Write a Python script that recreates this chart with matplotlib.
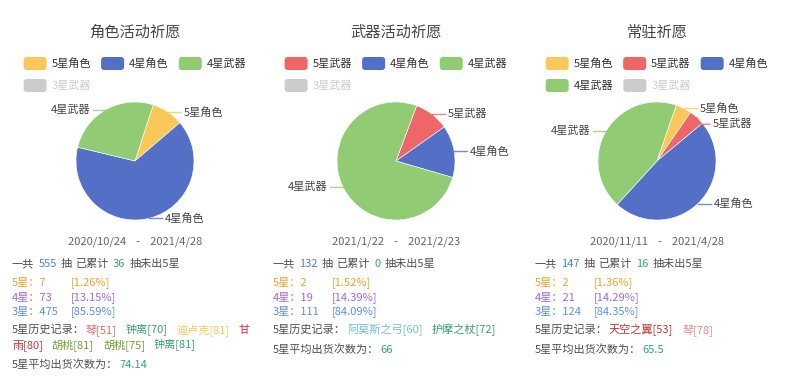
import matplotlib
matplotlib.use("Agg")
import matplotlib.pyplot as plt
import numpy as np
from matplotlib.patches import FancyBboxPatch

plt.rcParams['font.family'] = ['Noto Sans CJK SC', 'DejaVu Sans']

W, H = 801, 383

## Chart data
titles = ['角色活动祈愿', '武器活动祈愿', '常驻祈愿']
legend_names = [
    ['5星角色', '4星角色', '4星武器', '3星武器'],
    ['5星武器', '4星角色', '4星武器', '3星武器'],
    ['5星角色', '5星武器', '4星角色', '4星武器', '3星武器'],
]
hidden_names = ['3星武器']          ## legend item switched off
pie_values = [
    [7, 52, 21],
    [2, 3, 16],
    [1, 1, 11, 10],
]
date_from = ['2020/10/24', '2021/1/22', '2020/11/11']
date_to = ['2021/4/28', '2021/2/23', '2021/4/28']
total_pulls = [555, 132, 147]
since_last = [36, 0, 16]
star_labels = ['5星', '4星', '3星']
star_counts = [[7, 73, 475], [2, 19, 111], [2, 21, 124]]
star_pcts = [['1.26%', '13.15%', '85.59%'],
             ['1.52%', '14.39%', '84.09%'],
             ['1.36%', '14.29%', '84.35%']]
history_names = [['琴', '钟离', '迪卢克', '甘雨', '胡桃', '胡桃', '钟离'],
                 ['阿莫斯之弓', '护摩之杖'],
                 ['天空之翼', '琴']]
history_pulls = [[51, 70, 81, 80, 81, 75, 81], [60, 72], [53, 78]]
history_colors = [['#ee6666', '#3ba272', '#fac858', '#d0353f', '#73a032', '#73a032', '#3ba272'],
                  ['#73c0de', '#3ba272'],
                  ['#c23531', '#f08a8a']]
avg_pulls = ['74.14', '66', '65.5']

## Styles
slice_colors = {'5星角色': '#fac858', '4星角色': '#5470c6', '4星武器': '#91cc75',
                '5星武器': '#ee6666', '3星武器': '#cccccc'}
star_colors = ['#f5a02a', '#a066ee', '#5b8ff0']
dark = '#505050'
centers_x = [135, 396, 657]
center_y = 161
R = 59
start_angles = [72, 69.5, 71]
text_left = [12, 273, 535]
wrap_right = [256, 517, 779]

fig = plt.figure(figsize=(W / 100, H / 100), dpi=100)
renderer = fig.canvas.get_renderer()

## overlay axes in pixel coordinates for all the text
ov = fig.add_axes([0, 0, 1, 1])
ov.set_xlim(0, W)
ov.set_ylim(H, 0)
ov.axis('off')


def put(x, y, s, color, size=8, ha='left'):
    t = ov.text(x, y, s, color=color, fontsize=size, ha=ha, va='center')
    return t, t.get_window_extent(renderer).width


def text_width(s, size=8):
    t = ov.text(0, 0, s, fontsize=size)
    w = t.get_window_extent(renderer).width
    t.remove()
    return w


def flow(x, x0, y, x_max, segments, gap, line_h):
    for s, c in segments:
        rest = s
        while rest:
            n = len(rest)
            while n > 0 and x + text_width(rest[:n]) > x_max:
                n -= 1
            if n == 0:
                y += line_h
                x = x0
                continue
            _, w = put(x, y, rest[:n], c)
            x += w
            rest = rest[n:]
            if rest:
                y += line_h
                x = x0
        x += gap
    return y


for i in range(3):
    cx = centers_x[i]
    names = [n for n in legend_names[i] if n not in hidden_names]

    ## title
    ov.text(cx, 32, titles[i], fontsize=11, color='#464646', ha='center', va='center')

    ## legend, 3 items per row
    items = legend_names[i]
    widths = [text_width(n) for n in items]
    row1 = items[:3]
    row_w = sum(23 + 5 + widths[k] for k in range(len(row1))) + 10 * (len(row1) - 1)
    lx0 = cx - row_w / 2
    for k, n in enumerate(items):
        row, col = divmod(k, 3)
        if col == 0:
            lx = lx0
        ly = 57 + row * 22
        c = slice_colors[n]
        ov.add_patch(FancyBboxPatch((lx, ly), 23, 13, boxstyle='round,pad=0,rounding_size=3',
                                    fc=c, ec='none'))
        tc = '#cccccc' if n in hidden_names else '#333333'
        put(lx + 28, ly + 6.5, n, tc)
        lx += 28 + widths[k] + 10

    ## pie
    ax = fig.add_axes([(cx - 130) / W, 1 - (center_y + 130) / H, 260 / W, 260 / H])
    wedges, _ = ax.pie(pie_values[i], colors=[slice_colors[n] for n in names],
                       startangle=start_angles[i], counterclock=False,
                       wedgeprops=dict(edgecolor='white', linewidth=0.4))
    L = 130 / R
    ax.set_xlim(-L, L)
    ax.set_ylim(-L, L)
    ax.axis('off')

    ## outside labels with leader lines
    labels = []
    for w, n in zip(wedges, names):
        mid = np.deg2rad((w.theta1 + w.theta2) / 2)
        px, py = np.cos(mid), np.sin(mid)
        side = 1 if px >= 0 else -1
        labels.append([py, px, side, n])
    for side in (1, -1):
        grp = sorted([l for l in labels if l[2] == side], key=lambda l: -l[0])
        prev = None
        for l in grp:
            ly = l[0]
            if prev is not None and prev - ly < 0.27:
                ly = prev - 0.27
            prev = ly
            py, px, sd, n = l
            c = slice_colors[n]
            ax.plot([px, px + sd * 0.05, px + sd * 0.22], [py, ly, ly], color=c, lw=1, alpha=0.8)
            ax.text(px + sd * 0.27, ly, n, fontsize=8, color='#444444',
                    ha='left' if sd > 0 else 'right', va='center')

    ## date range
    ov.text(cx, 242, date_from[i] + '    -    ' + date_to[i], fontsize=8, color='#666666',
            ha='center', va='center')

    ## summary text
    x0 = text_left[i]
    x = x0
    for s, c in [('一共', dark), (str(total_pulls[i]), '#4a7ff0'), ('抽', dark), ('已累计', dark),
                 (str(since_last[i]), '#2ea87a'), ('抽未出5星', dark)]:
        _, w = put(x, 264, s, c)
        x += w + 4

    for k in range(3):
        y = 283 + k * 14.5
        put(x0, y, star_labels[k] + '：' + str(star_counts[i][k]), star_colors[k])
        put(x0 + 59, y, '[' + star_pcts[i][k] + ']', star_colors[k])

    _, w = put(x0, 330, '5星历史记录：', dark)
    segs = [(n + '[' + str(p) + ']', c)
            for n, p, c in zip(history_names[i], history_pulls[i], history_colors[i])]
    y_end = flow(x0 + w + 1, x0, 330, wrap_right[i], segs, 9, 15)

    _, w = put(x0, y_end + 20, '5星平均出货次数为：', dark)
    put(x0 + w + 1, y_end + 20, avg_pulls[i], '#2ea87a')

fig.savefig('out.png', dpi=100)
